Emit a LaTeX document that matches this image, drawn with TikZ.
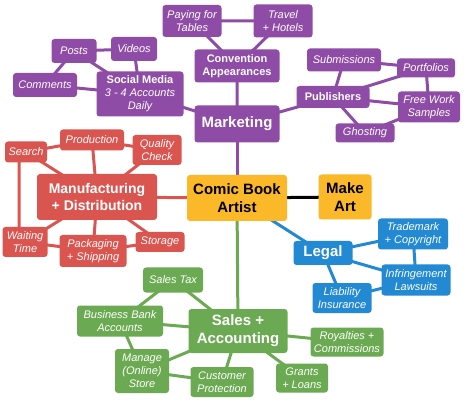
\documentclass[tikz,border=0pt]{standalone}
\usepackage{fontspec}
\setmainfont{Liberation Sans}
\usepackage{tikz}
\usetikzlibrary{backgrounds}
\definecolor{mktPurple}{HTML}{8E4CA6}
\definecolor{mfgRed}{HTML}{DB5550}
\definecolor{coreGold}{HTML}{FBB829}
\definecolor{legalBlue}{HTML}{2389D2}
\definecolor{salesGreen}{HTML}{6BAA52}

\begin{document}
\begin{tikzpicture}[
  x=1pt,y=-1pt,
  leaf/.style={rounded corners=3pt,inner sep=1pt,align=center,text=white,
    font=\itshape\fontsize{11}{13}\selectfont},
  hub/.style={leaf,font=\bfseries\fontsize{11}{13}\selectfont},
  topic/.style={leaf,font=\bfseries\fontsize{15}{18}\selectfont},
  core/.style={topic,fill=coreGold,text=black},
  mkt/.style={fill=mktPurple},
  mfg/.style={fill=mfgRed},
  legal/.style={fill=legalBlue},
  sales/.style={fill=salesGreen},
  link/.style={line width=3pt}
]
  \useasboundingbox (0,0) rectangle (474,406);

  % centre
  \node[core,minimum width=100pt,minimum height=46pt] (artist) at (237,198) {Comic Book\\Artist};
  \node[core,minimum width=53pt,minimum height=45pt] (art) at (345,197) {Make\\Art};

  % marketing
  \node[topic,mkt,minimum width=85pt,minimum height=37pt] (market) at (237,124) {Marketing};
  \node[hub,mkt,minimum width=85pt,minimum height=33pt] (conv) at (237,66) {Convention\\Appearances};
  \node[leaf,mkt,minimum width=59pt,minimum height=32pt] (pay) at (192,21) {Paying for\\Tables};
  \node[leaf,mkt,minimum width=59pt,minimum height=33pt] (travel) at (283,21) {Travel\\+ Hotels};
  \node[hub,mkt,minimum width=87pt,minimum height=45pt] (social) at (140,94) {Social Media\\\itshape\mdseries 3 - 4 Accounts\\\itshape\mdseries Daily};
  \node[leaf,mkt,minimum width=45pt,minimum height=24pt] (posts) at (74,51) {Posts};
  \node[leaf,mkt,minimum width=46pt,minimum height=24pt] (videos) at (134,49) {Videos};
  \node[leaf,mkt,minimum width=64pt,minimum height=24pt] (comments) at (45,85) {Comments};
  \node[hub,mkt,minimum width=73pt,minimum height=22pt] (pub) at (333,97) {Publishers};
  \node[leaf,mkt,minimum width=74pt,minimum height=23pt] (subm) at (344,60) {Submissions};
  \node[leaf,mkt,minimum width=58pt,minimum height=19pt] (folio) at (426,68) {Portfolios};
  \node[leaf,mkt,minimum width=62pt,minimum height=31pt] (free) at (429,107) {Free Work\\Samples};
  \node[leaf,mkt,minimum width=59pt,minimum height=19pt] (ghost) at (365,133) {Ghosting};

  % manufacturing
  \node[topic,mfg,minimum width=120pt,minimum height=46pt,font=\bfseries\fontsize{14}{17}\selectfont] (manu) at (97,197) {Manufacturing\\+ Distribution};
  \node[leaf,mfg,minimum width=42pt,minimum height=21pt] (search) at (26,152) {Search};
  \node[leaf,mfg,minimum width=64pt,minimum height=21pt] (prod) at (92,140) {Production};
  \node[leaf,mfg,minimum width=49pt,minimum height=30pt] (check) at (157,150) {Quality\\Check};
  \node[leaf,mfg,minimum width=45pt,minimum height=30pt] (wait) at (25,242) {Waiting\\Time};
  \node[leaf,mfg,minimum width=67pt,minimum height=32pt] (pack) at (93,251) {Packaging\\+ Shipping};
  \node[leaf,mfg,minimum width=49pt,minimum height=20pt] (store) at (160,242) {Storage};

  % legal
  \node[topic,legal,minimum width=59pt,minimum height=24pt] (law) at (323,253) {Legal};
  \node[leaf,legal,minimum width=70pt,minimum height=31pt] (mark) at (413,234) {Trademark\\+ Copyright};
  \node[leaf,legal,minimum width=69pt,minimum height=31pt] (suit) at (416,280) {Infringement\\Lawsuits};
  \node[leaf,legal,minimum width=59pt,minimum height=30pt] (insure) at (342,298) {Liability\\Insurance};

  % sales
  \node[topic,sales,minimum width=99pt,minimum height=44pt] (acct) at (238,331) {Sales +\\Accounting};
  \node[leaf,sales,minimum width=60pt,minimum height=25pt] (tax) at (173,280) {Sales Tax};
  \node[leaf,sales,minimum width=86pt,minimum height=31pt] (bank) at (120,321) {Business Bank\\Accounts};
  \node[leaf,sales,minimum width=54pt,minimum height=44pt] (shop) at (142,371) {Manage\\(Online)\\Store};
  \node[leaf,sales,minimum width=63pt,minimum height=30pt] (cust) at (222,382) {Customer\\Protection};
  \node[leaf,sales,minimum width=73pt,minimum height=29pt] (royal) at (347,342) {Royalties +\\Commissions};
  \node[leaf,sales,minimum width=52pt,minimum height=29pt] (grant) at (302,378) {Grants\\+ Loans};

  \begin{scope}[on background layer]
    \draw[link] (artist.center) -- (art.center);
    \draw[link,mktPurple] (artist.center) -- (market.center);
    \draw[link,mktPurple] (market.center) -- (conv.center) (conv.center) -- (pay.center)
      (conv.center) -- (travel.center) (pay.center) -- (travel.center);
    \draw[link,mktPurple] (market.center) -- (social.center) (social.center) -- (posts.center)
      (social.center) -- (videos.center) (social.center) -- (comments.center)
      (posts.center) -- (videos.center) (posts.center) -- (comments.center);
    \draw[link,mktPurple] (market.center) -- (pub.center) (pub.center) -- (subm.center)
      (pub.center) -- (folio.center) (pub.center) -- (free.center) (pub.center) -- (ghost.center)
      (subm.center) -- (folio.center) (folio.center) -- (free.center) (free.center) -- (ghost.center);
    \draw[link,mfgRed] (artist.center) -- (manu.center);
    \draw[link,mfgRed] (search.center) -- (prod.center) (prod.center) -- (check.center)
      (manu.center) -- (search.center) (manu.center) -- (prod.center) (manu.center) -- (check.center)
      ([xshift=-7pt]search.center) -- ([xshift=-6pt]wait.center) (manu.center) -- (wait.center)
      (manu.center) -- (pack.center) (manu.center) -- (store.center)
      (wait.center) -- (pack.center) (pack.center) -- (store.center);
    \draw[link,legalBlue] (artist.center) -- (law.center) (law.center) -- (mark.center)
      (law.center) -- (suit.center) (law.center) -- (insure.center)
      (mark.center) -- (suit.center) (suit.center) -- (insure.center);
    \draw[link,salesGreen] (artist.center) -- (acct.center) (acct.center) -- (tax.center)
      (tax.center) -- (bank.center) (bank.center) -- (acct.center) (bank.center) -- (shop.center)
      (shop.center) -- (acct.center) (shop.center) -- (cust.center) (cust.center) -- (acct.center)
      (acct.center) -- (royal.center) (acct.center) -- (grant.center);
  \end{scope}
\end{tikzpicture}
\end{document}
